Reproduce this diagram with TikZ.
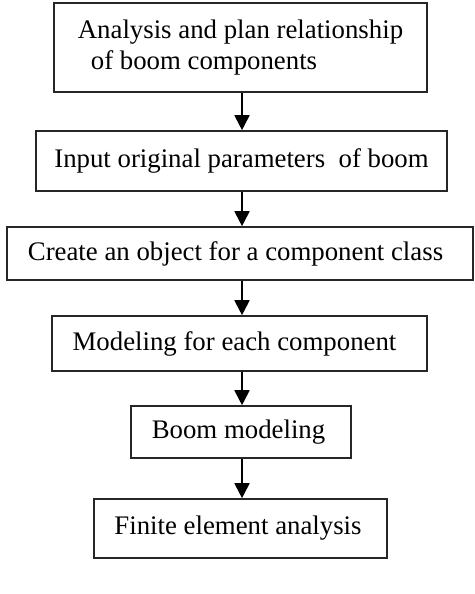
\documentclass[tikz,border=0pt]{standalone}
\usepackage{fontspec}
\setmainfont{Liberation Serif}
\usetikzlibrary{arrows.meta}
\begin{document}
\begin{tikzpicture}[x=1pt,y=-1pt,
  box/.style={draw=black!85, line width=1.6pt, inner sep=0pt, font=\fontsize{26.8}{31}\selectfont},
  flow/.style={line width=1.8pt, -{Triangle[length=15pt,width=15pt]}}]
\useasboundingbox (0,0) rectangle (474,594);
\node[box, minimum width=373pt, minimum height=89pt, align=left] (b1) at (240.5,47.5)
  {Analysis and plan relationship\\\hspace*{13pt}of boom components};
\node[box, minimum width=411pt, minimum height=60pt] (b2) at (241.5,161)
  {Input original parameters\ \ of boom};
\node[box, minimum width=466pt, minimum height=53pt] (b3) at (240,253.5)
  {Create an object for a component class\hspace*{9pt}};
\node[box, minimum width=375pt, minimum height=55pt] (b4) at (239.5,343.5)
  {Modeling for each component\hspace*{10pt}};
\node[box, minimum width=220pt, minimum height=52pt] (b5) at (241,432)
  {Boom modeling\hspace*{5pt}};
\node[box, minimum width=293pt, minimum height=59pt] (b6) at (240.5,528.5)
  {Finite element analysis\hspace*{5pt}};
\draw[flow] (b1.south -| 242,0) -- (b2.north -| 242,0);
\draw[flow] (b2.south -| 242,0) -- (b3.north -| 242,0);
\draw[flow] (b3.south -| 242,0) -- (b4.north -| 242,0);
\draw[flow] (b4.south -| 242,0) -- (b5.north -| 242,0);
\draw[flow] (b5.south -| 242,0) -- (b6.north -| 242,0);
\end{tikzpicture}
\end{document}
